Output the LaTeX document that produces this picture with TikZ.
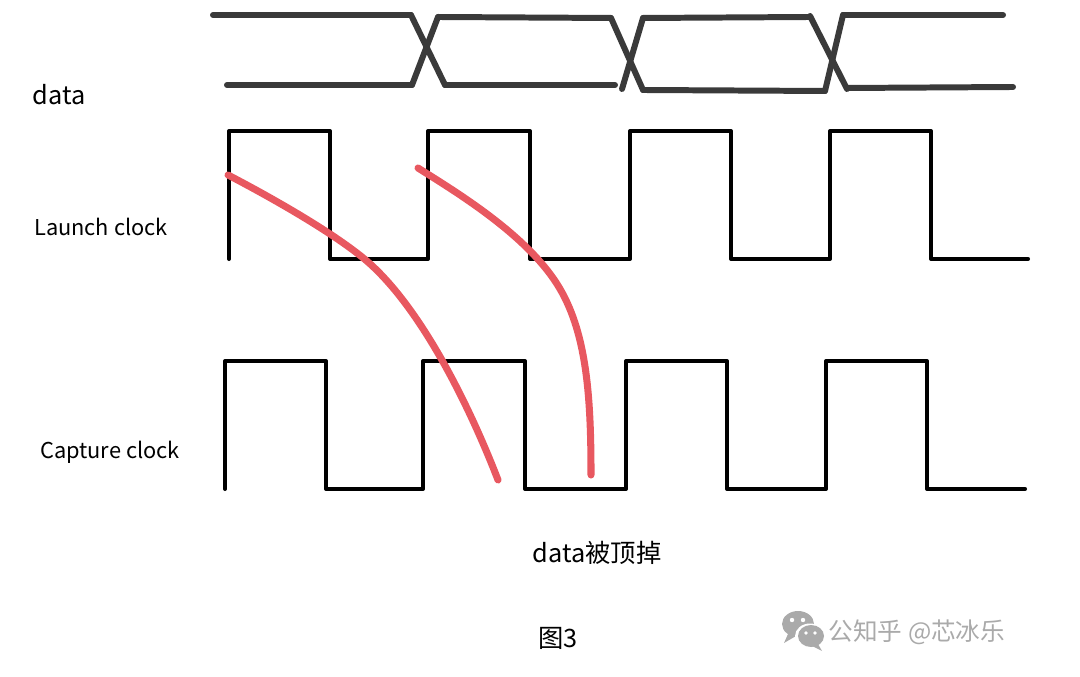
\documentclass[tikz,border=0pt]{standalone}
\usepackage{fontspec}
\setmainfont{Noto Sans CJK SC}
\definecolor{dgray}{RGB}{58,58,58}
\definecolor{redc}{RGB}{232,88,96}
\definecolor{wm}{RGB}{170,170,170}
\begin{document}
\begin{tikzpicture}[x=0.01cm,y=-0.01cm,
  dataline/.style={draw=dgray,line width=1.7pt,line cap=round},
  clk/.style={draw=black,line width=1.15pt,line join=round,line cap=round},
  redcurve/.style={draw=redc,line width=2pt,line cap=round},
  lbl/.style={inner sep=0pt,font=\fontsize{6.2pt}{7pt}\selectfont},
  biglbl/.style={inner sep=0pt,font=\fontsize{7.2pt}{8pt}\selectfont}]
\useasboundingbox (0,0) rectangle (1080,677);
% data bus
\draw[dataline] (213,15) -- (411,15);
\draw[dataline] (227,85) -- (412,85);
\draw[dataline] (411,15) -- (445,85);
\draw[dataline] (412,85) -- (438,17);
\draw[dataline] (438,17) -- (611,18);
\draw[dataline] (445,85) -- (615,85);
\draw[dataline] (611,18) -- (643,90);
\draw[dataline] (622,89) -- (643,18);
\draw[dataline] (643,18) -- (810,17);
\draw[dataline] (643,90) -- (825,91);
\draw[dataline] (810,16) -- (847,89);
\draw[dataline] (825,91) -- (843,15);
\draw[dataline] (843,15) -- (1003,15);
\draw[dataline] (847,88) -- (1013,87);
% launch clock
\draw[clk] (229,259)--(229,131)--(330,131)--(330,259)--(428,259)--(428,131)--(530,131)--(530,259)--(630,259)--(630,131)--(731,131)--(731,259)--(830,259)--(830,131)--(931,131)--(931,259)--(1028,259);
% capture clock
\draw[clk] (225,489)--(225,361)--(326,361)--(326,489)--(423,489)--(423,361)--(525,361)--(525,489)--(626,489)--(626,361)--(727,361)--(727,489)--(826,489)--(826,361)--(927,361)--(927,489)--(1025,489);
% red curves
\draw[redcurve] (228,175) .. controls (263.5,193.5) and (326,228) .. (362,257)
  .. controls (420.5,303.9) and (471,410) .. (498,480);
\draw[redcurve] (418,168) .. controls (456,192) and (524.8,233.4) .. (557,284)
  .. controls (586.5,330.4) and (591,395) .. (591,475);
% labels
\node[biglbl] (data) at (59,95) {data};
\node[lbl] (launch) at (101,227) {Launch clock};
\node[lbl] (capture) at (110,452) {Capture clock};
\node[biglbl] (note) at (597,553) {data被顶掉};
\node[biglbl] (fig) at (558,638) {图3};
% watermark
\fill[wm] (798,624) ellipse [x radius=16, y radius=13];
\fill[wm] (788,634) -- (784,643) -- (796,636) -- cycle;
\fill[white] (810,636) ellipse [x radius=15, y radius=12.5];
\fill[wm] (811,636) ellipse [x radius=13, y radius=11];
\fill[wm] (818,644) -- (822,651) -- (812,646) -- cycle;
\fill[white] (792,620) circle (2.2) (803,620) circle (2.2) (806,633) circle (1.8) (815,633) circle (1.8);
\node[inner sep=0pt,anchor=west,text=wm,font=\fontsize{7pt}{8pt}\selectfont] (wmark) at (828,632) {公知乎\ @芯冰乐};
\end{tikzpicture}
\end{document}
